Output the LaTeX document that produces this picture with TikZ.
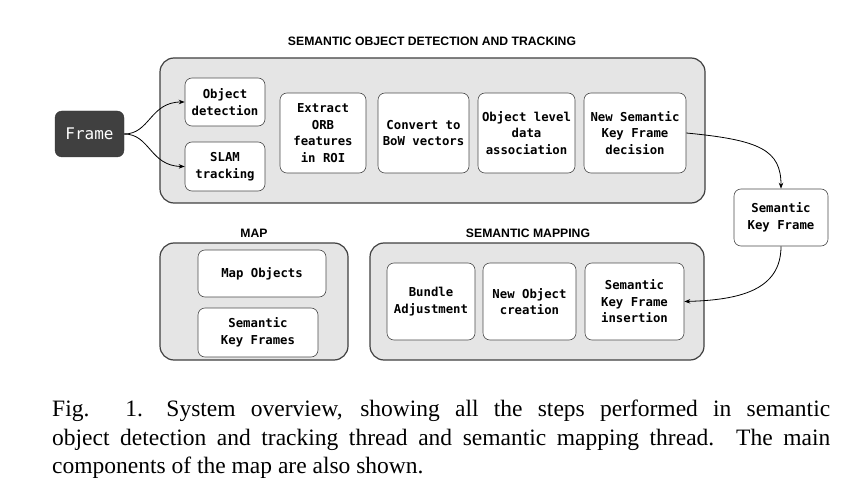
\documentclass[tikz,border=0pt]{standalone}
\usepackage{fontspec}
\setmainfont{Liberation Serif}
\newfontfamily\monob{DejaVu Sans Mono Bold}
\newfontfamily\hdr{Liberation Sans Bold}
\newfontfamily\monor{DejaVu Sans Mono}
\usetikzlibrary{arrows.meta}
\begin{document}
\begin{tikzpicture}[x=1pt,y=-1pt,
  grp/.style={draw=black!75,line width=1.2pt,fill=black!10,rounded corners=14pt},
  stepbox/.style={draw=black!70,line width=0.6pt,fill=white,rounded corners=7pt,align=center,font=\monob\fontsize{12.3}{16.5}\selectfont},
  ttl/.style={font=\hdr\fontsize{12.2}{13}\selectfont},
  arr/.style={-{Stealth[length=6pt]},line width=0.8pt}]
\useasboundingbox (0,0) rectangle (850,494);
\node[ttl] (t1) at (432,41) {SEMANTIC OBJECT DETECTION AND TRACKING};
\node[grp,minimum width=545,minimum height=145] (g1) at (432.5,130.5) {};
\node[draw=black!80,fill=black!75,rounded corners=7pt,minimum width=69,minimum height=46,text=white,font=\monor\fontsize{16}{18}\selectfont] (fr) at (89.5,134) {Frame};
\node[stepbox,minimum width=80,minimum height=48] (od) at (225,102) {Object\\detection};
\node[stepbox,minimum width=80,minimum height=49] (sl) at (225,166.5) {SLAM\\tracking};
\node[stepbox,minimum width=86,minimum height=80] (orb) at (323,133) {Extract\\ORB\\features\\in ROI};
\node[stepbox,minimum width=91,minimum height=80] (bow) at (423.5,133) {Convert to\\BoW vectors};
\node[stepbox,minimum width=97,minimum height=80] (da) at (526.5,133) {Object level\\data\\association};
\node[stepbox,minimum width=102,minimum height=80] (ns) at (635,133) {New Semantic\\Key Frame\\decision};
\node[stepbox,minimum width=94,minimum height=57] (skf) at (781,217.5) {Semantic\\Key Frame};
\node[ttl] (t2) at (254,233) {MAP};
\node[grp,minimum width=188,minimum height=117] (g2) at (254,301.5) {};
\node[stepbox,minimum width=128,minimum height=47] (mo) at (262,273.5) {Map Objects};
\node[stepbox,minimum width=120,minimum height=49] (mk) at (258,332.5) {Semantic\\Key Frames};
\node[ttl] (t3) at (528,233) {SEMANTIC MAPPING};
\node[grp,minimum width=334,minimum height=117] (g3) at (537,301.5) {};
\node[stepbox,minimum width=88,minimum height=77] (ba) at (431,301.5) {Bundle\\Adjustment};
\node[stepbox,minimum width=93,minimum height=77] (no) at (529.5,301.5) {New Object\\creation};
\node[stepbox,minimum width=99,minimum height=77] (ki) at (634.5,301.5) {Semantic\\Key Frame\\insertion};
\draw[arr] (fr.east) .. controls (150,134) and (150,102) .. (od.west);
\draw[arr] (fr.east) .. controls (150,134) and (150,166) .. (sl.west);
\draw[arr] (ns.east) .. controls (760,140) and (781,150) .. (skf.north);
\draw[arr] (skf.south) .. controls (781,290) and (740,300) .. (ki.east);
\node[anchor=north west,text width=778pt,align=justify,inner sep=0pt,font=\fontsize{23.5}{28.5}\selectfont] (cap) at (52,400)
{Fig. 1.\quad System overview, showing all the steps performed in semantic\linebreak object detection and tracking thread and semantic mapping thread. The main\linebreak components of the map are also shown.};
\end{tikzpicture}
\end{document}
